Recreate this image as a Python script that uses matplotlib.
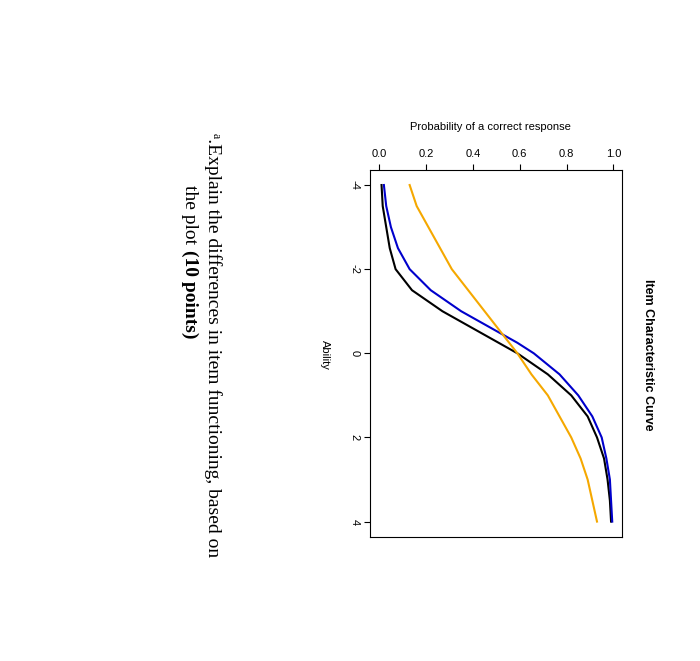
import matplotlib
matplotlib.use("Agg")
import matplotlib.pyplot as plt

# ability values and read-off probabilities for three items
ability = [-4, -3.5, -3, -2.5, -2, -1.5, -1, -0.75, -0.5, -0.25, 0, 0.5, 1, 1.5, 2, 2.5, 3, 3.5, 4]
item_black = [.01, .015, .03, .045, .07, .14, .27, .35, .43, .51, .59, .72, .82, .89, .93, .96, .975, .985, .99]
item_blue = [.02, .03, .05, .08, .13, .22, .35, .43, .51, .59, .66, .77, .85, .91, .95, .97, .985, .99, .995]
item_orange = [.13, .16, .21, .26, .31, .38, .45, .485, .52, .555, .59, .65, .72, .77, .82, .86, .89, .91, .93]
prob_ticks = [0.0, 0.2, 0.4, 0.6, 0.8, 1.0]
ability_ticks = [-4, -2, 0, 2, 4]

plt.rcParams["font.family"] = ["Liberation Sans", "DejaVu Sans"]

fig = plt.figure(figsize=(7, 6.61), dpi=100)
ax = fig.add_axes([0.529, 0.188, 0.36, 0.555])

# chart is shown rotated 90 deg clockwise: probability horizontal, ability downward
ax.plot(item_black, ability, color="black", lw=1.5)
ax.plot(item_blue, ability, color="#0000cc", lw=1.5)
ax.plot(item_orange, ability, color="#f5a800", lw=1.5)

ax.set_xlim(-0.038, 1.038)
ax.set_ylim(4.36, -4.36)
ax.xaxis.tick_top()
ax.set_xticks(prob_ticks)
ax.set_xticklabels([f"{t:.1f}" for t in prob_ticks], fontsize=8)
ax.set_yticks(ability_ticks)
ax.set_yticklabels([str(t) for t in ability_ticks], fontsize=8, rotation=-90, va="center")
ax.tick_params(length=4, width=0.8)
for s in ax.spines.values():
    s.set_linewidth(0.8)

fig.text(0.700, 1 - 127 / 661, "Probability of a correct response", fontsize=8, ha="center", va="center")
fig.text(325 / 700, 1 - 355 / 661, "Ability", fontsize=8, rotation=-90, ha="center", va="center")
fig.text(648 / 700, 1 - 355 / 661, "Item Characteristic Curve", fontsize=9, fontweight="bold",
         rotation=-90, ha="center", va="center")

serif = ["Liberation Serif", "DejaVu Serif"]
fig.text(213 / 700, 1 - 133 / 661, "ᵃ.Explain the differences in item functioning, based on",
         fontsize=14, family=serif, rotation=-90, ha="center", va="top")
fig.text(190 / 700, 1 - 185 / 661, "the plot", fontsize=14, family=serif,
         rotation=-90, ha="center", va="top")
fig.text(190 / 700, 1 - 250 / 661, "(10 points)", fontsize=14, family=serif, fontweight="bold",
         rotation=-90, ha="center", va="top")

fig.savefig("out.png", dpi=100)
